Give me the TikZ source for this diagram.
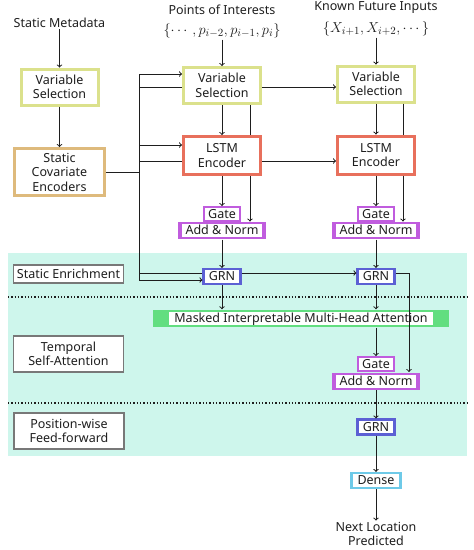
\documentclass[tikz,border=0pt]{standalone}
\usepackage{amsmath}
\usepackage{amssymb}
\usepackage{fontspec}
\setmainfont{Noto Sans}
\usetikzlibrary{calc, shapes, arrows}
\usetikzlibrary{positioning}

\definecolor{selcol}{RGB}{219,225,140}
\definecolor{covcol}{RGB}{222,186,124}
\definecolor{lstmcol}{RGB}{232,112,92}
\definecolor{gatecol}{RGB}{192,92,222}
\definecolor{grncol}{RGB}{92,96,212}
\definecolor{maskcol}{RGB}{98,222,128}
\definecolor{densecol}{RGB}{110,202,232}
\definecolor{bandcol}{RGB}{206,246,236}
\definecolor{labcol}{RGB}{120,120,120}
\definecolor{inkcol}{RGB}{30,30,30}

\tikzstyle{plain} = [align=center, inner sep=1pt]
\tikzstyle{mathset} = [inner sep=1pt, font=\fontsize{15}{17}\selectfont]
\tikzstyle{selection} = [rectangle, draw=selcol, line width=3pt, fill=white, align=center, inner sep=1pt, minimum width=77pt, minimum height=36pt]
\tikzstyle{covariate} = [rectangle, draw=covcol, line width=3pt, fill=white, align=center, inner sep=1pt, minimum width=90pt, minimum height=47pt]
\tikzstyle{encoder} = [rectangle, draw=lstmcol, line width=3pt, fill=white, align=center, inner sep=1pt, minimum width=77pt, minimum height=38pt]
\tikzstyle{gate} = [rectangle, draw=gatecol, line width=2pt, fill=white, inner sep=1pt, minimum width=36pt, minimum height=14pt]
\tikzstyle{addnorm} = [rectangle, fill=gatecol, inner xsep=4pt, inner ysep=2pt]
\tikzstyle{attention} = [rectangle, fill=maskcol, inner xsep=15.5pt, inner ysep=2pt]
\tikzstyle{grn} = [rectangle, draw=grncol, line width=2.2pt, fill=white, inner sep=1pt, minimum width=37pt, minimum height=15pt]
\tikzstyle{dense} = [rectangle, draw=densecol, line width=2.2pt, fill=white, inner sep=1pt, minimum width=49pt, minimum height=15pt]
\tikzstyle{stage} = [rectangle, draw=labcol, line width=1.2pt, fill=white, align=center, inner sep=1pt, minimum width=110pt]

% white strip inside a coloured bar
\newcommand{\barfill}[2]{{\setlength{\fboxsep}{0pt}\colorbox{white}{\makebox[#1]{\rule[-2.5pt]{0pt}{13pt}#2}}}}

\begin{document}
\begin{tikzpicture}[x=1pt, y=-1pt, line width=1pt, draw=inkcol, text=inkcol, font=\fontsize{12.5}{14.5}\selectfont]
        \useasboundingbox (0, 0) rectangle (474, 550);
        \fill[bandcol] (8, 253) rectangle (467, 456);
        \draw[dotted, line width=1.3pt] (8, 297) -- (467, 297);
        \draw[dotted, line width=1.3pt] (8, 403) -- (467, 403);

        % static side
        \node[plain] at (59.5, 23) (StaticMeta) {Static Metadata};
        \node[selection] at (59.5, 87) (VarSelStatic) {Variable\\Selection};
        \node[covariate] at (59.5, 172) (CovEnc) {Static\\Covariate\\Encoders};

        % inputs
        \node[plain] at (222, 10) (POITitle) {Points of Interests};
        \node[mathset] at (222, 31) (POISet) {$\{\cdots, p_{i-2}, p_{i-1}, p_i\}$};
        \node[plain] at (376, 8) (FutTitle) {Known Future Inputs};
        \node[mathset] at (376, 29) (FutSet) {$\{X_{i+1}, X_{i+2}, \cdots\}$};

        \node[selection] at (222, 85.5) (VarSelMid) {Variable\\Selection};
        \node[selection] at (376, 84) (VarSelFut) {Variable\\Selection};
        \node[encoder] at (222, 155.5) (LSTMMid) {LSTM\\Encoder};
        \node[encoder] at (376, 155) (LSTMFut) {LSTM\\Encoder};
        \node[gate] at (222, 214) (GateMid) {Gate};
        \node[gate] at (376, 214) (GateFut) {Gate};
        \node[addnorm] at (222, 230.5) (AddNormMid) {\barfill{80pt}{Add \& Norm}};
        \node[addnorm] at (376, 230.5) (AddNormFut) {\barfill{80pt}{Add \& Norm}};

        % enrichment and attention
        \node[grn] at (222, 276.5) (GRNMid) {GRN};
        \node[grn] at (376, 276.5) (GRNFut) {GRN};
        \node[attention] at (301, 318.5) (Masked) {\barfill{265pt}{Masked Interpretable Multi-Head Attention}};
        \node[gate] at (376, 364) (GateOut) {Gate};
        \node[addnorm] at (376, 381) (AddNormOut) {\barfill{80pt}{Add \& Norm}};
        \node[grn] at (376, 427) (GRNOut) {GRN};
        \node[dense] at (376, 480.5) (Dense) {Dense};
        \node[plain] at (376, 534) (NextLoc) {Next Location\\Predicted};

        \node[stage, minimum height=18pt] at (68.5, 274) (Enrich) {Static Enrichment};
        \node[stage, minimum height=36pt] at (68.5, 354) (SelfAttn) {Temporal\\Self-Attention};
        \node[stage, minimum height=36pt] at (69, 431) (FeedFwd) {Position-wise\\Feed-forward};

        \coordinate (BusTop) at (139, 74);
        \coordinate (BusSel) at (139, 87);
        \coordinate (BusLSTM) at (139, 145);
        \coordinate (BusState) at (139, 161);
        \coordinate (BusPass) at (139, 273);
        \coordinate (BusEnd) at (139, 280);
        \coordinate (SkipMid) at (250, 0);
        \coordinate (SkipFut) at (403, 0);
        \coordinate (SkipAttn) at (409, 273);

        \draw[->] (StaticMeta) -- (VarSelStatic);
        \draw[->] (VarSelStatic) -- (CovEnc);
        \draw (CovEnc.east) -- (CovEnc.east -| BusTop);
        \draw (BusTop) -- (BusEnd);
        \draw[->] (BusTop) -- (BusTop -| VarSelMid.west);
        \draw (BusSel) -- (BusSel -| VarSelMid.west);
        \draw[->] (BusSel -| VarSelMid.east) -- (BusSel -| VarSelFut.west);
        \draw[->] (BusLSTM) -- (BusLSTM -| LSTMMid.west);
        \draw (BusState) -- (BusState -| LSTMMid.west);
        \draw[->] (BusState -| LSTMMid.east) -- (BusState -| LSTMFut.west);
        \draw (BusPass) -- (BusPass -| GRNMid.west);
        \draw[->] (BusPass -| GRNMid.east) -- (BusPass -| GRNFut.west);
        \draw[->] (BusEnd) -- (BusEnd -| GRNMid.west);

        \draw[->] (POISet) -- (VarSelMid);
        \draw[->] (FutSet) -- (VarSelFut);
        \draw[->] (VarSelMid) -- (LSTMMid);
        \draw[->] (VarSelFut) -- (LSTMFut);
        \draw[->] (LSTMMid) -- (GateMid);
        \draw[->] (LSTMFut) -- (GateFut);
        \draw (VarSelMid.south -| SkipMid) -- (LSTMMid.north -| SkipMid);
        \draw[->] (LSTMMid.south -| SkipMid) -- (AddNormMid.north -| SkipMid);
        \draw (VarSelFut.south -| SkipFut) -- (LSTMFut.north -| SkipFut);
        \draw[->] (LSTMFut.south -| SkipFut) -- (AddNormFut.north -| SkipFut);
        \draw[->] (AddNormMid) -- (GRNMid);
        \draw[->] (AddNormFut) -- (GRNFut);

        \draw[->] (GRNMid) -- (GRNMid |- Masked.north);
        \draw[->] (GRNFut) -- (GRNFut |- Masked.north);
        \draw[->] (BusPass -| GRNFut.east) -- (SkipAttn) -- (SkipAttn |- AddNormOut.north);
        \draw[->] (GateOut |- Masked.south) -- (GateOut);
        \draw[->] (AddNormOut) -- (GRNOut);
        \draw[->] (GRNOut) -- (Dense);
        \draw[->] (Dense) -- (NextLoc);
    \end{tikzpicture}
\end{document}
